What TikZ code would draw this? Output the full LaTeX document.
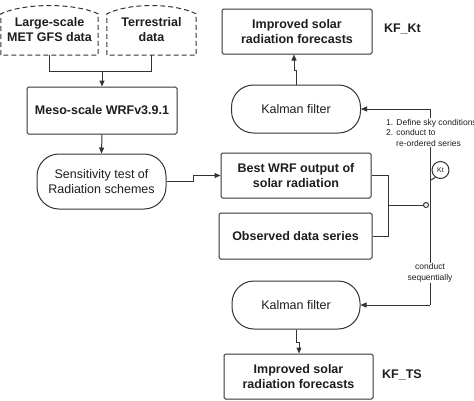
\documentclass[tikz,border=0pt]{standalone}
\usepackage{fontspec}
\setmainfont{Liberation Sans}
\usetikzlibrary{arrows.meta,calc}
\definecolor{lncol}{HTML}{333333}
\definecolor{txcol}{HTML}{1E1E1E}
\begin{document}
\begin{tikzpicture}[x=1pt,y=-1pt,
  font=\fontsize{12.5}{15}\selectfont, text=txcol,
  box/.style={draw=lncol, line width=1pt, rounded corners=1.5pt, align=center, inner sep=0pt, font=\fontsize{12.5}{15}\selectfont\bfseries},
  term/.style={draw=lncol, line width=1pt, rounded corners=22pt, align=center, inner sep=0pt},
  ghost/.style={align=center, inner sep=0pt, font=\fontsize{12.5}{15}\selectfont\bfseries},
  dashedbox/.style={draw=lncol, line width=1pt, dash pattern=on 5pt off 3pt},
  conn/.style={draw=lncol, line width=1pt},
  arr/.style={draw=lncol, line width=1pt, -{Triangle[length=6pt,width=5pt]}},
  small/.style={font=\fontsize{8.5}{10.5}\selectfont, inner sep=1pt}
]
\useasboundingbox[fill=white] (0,0) rectangle (474,400);

% dashed input shapes
\node[ghost, minimum width=97, minimum height=50] (ls) at (49.5,30) {Large-scale\\MET GFS data};
\node[ghost, minimum width=89, minimum height=50] (ter) at (151.5,30) {Terrestrial\\data};
\foreach \n in {ls,ter}{
  \draw[dashedbox] (\n.south west) -- ($(\n.north west)+(0,9)$)
    .. controls ($(\n.north west)!0.25!(\n.north east)+(0,-2)$) and ($(\n.north west)!0.75!(\n.north east)+(0,-2)$)
    .. ($(\n.north east)+(0,9)$) -- (\n.south east) -- cycle;
}

\node[box, minimum width=150, minimum height=47] (meso) at (102,110.5) {Meso-scale WRFv3.9.1};
\node[term, minimum width=129, minimum height=55] (sens) at (101.5,181.5) {Sensitivity test of\\Radiation schemes};

\node[box, minimum width=150, minimum height=45] (imp1) at (297,31.5) {Improved solar\\radiation forecasts};
\node[term, minimum width=129, minimum height=48] (kal1) at (296,109) {Kalman filter};
\node[box, minimum width=150, minimum height=45] (best) at (296,175.5) {Best WRF output of\\solar radiation};
\node[box, minimum width=153, minimum height=46] (obs) at (295.5,236) {Observed data series};
\node[term, minimum width=128, minimum height=48] (kal2) at (296,305) {Kalman filter};
\node[box, minimum width=149, minimum height=45] (imp2) at (298.5,376.5) {Improved solar\\radiation forecasts};

\node[font=\fontsize{12.5}{15}\selectfont\bfseries, inner sep=0pt] (kfkt) at (402.5,29) {KF\_Kt};
\node[font=\fontsize{12.5}{15}\selectfont\bfseries, inner sep=0pt] (kfts) at (402,375) {KF\_TS};

% top connectors
\coordinate (j1) at (102,71);
\draw[conn] (ls.south) |- (ter.south |- j1) -- (ter.south);
\draw[arr] (j1) -- (meso.north);
\draw[arr] (meso.south) -- (sens.north);

\coordinate (s1) at (193,0);
\draw[arr] (sens.east) -- (sens.east -| s1) -- (best.west -| s1) -- (best.west);

% junction of best and observed
\coordinate (jn) at (388,205);
\coordinate (vx) at (430,0);
\draw[conn] (best.east) -| (jn);
\draw[conn] (obs.east) -| (jn);
\coordinate (oc) at (426,205);
\draw[conn] (jn) -- (423.5,205);
\draw[conn, fill=white] (oc) circle[radius=2.5];

% vertical line to the Kalman filters
\draw[arr] (vx |- kal2.east) -- (vx |- kal1.east) -- (kal1.east);
\draw[arr] (vx |- kal2.east) -- (kal2.east);

% Kt callout
\node[circle, draw=lncol, line width=1pt, fill=white, minimum size=17, inner sep=0pt, font=\fontsize{7}{8}\selectfont] (kt) at (440.5,170) {Kt};
\draw[conn] (kt.235) -- (431,180);

% labels on the line
\node[small, fill=white, anchor=north west, align=left] (lab1) at (385,118)
  {1. Define sky conditions\\2. conduct to\\\hspace*{10pt}re-ordered series};
\node[small, fill=white, align=center] (lab2) at (430,273) {conduct\\sequentially};

% Kalman -> improved arrows with jogs
\coordinate (a1) at (296,70);
\coordinate (a2) at (294,70);
\draw[arr] (kal1.north) -- (a1) -- (a2) -- (a2 |- imp1.south);
\coordinate (b1) at (296,342);
\coordinate (b2) at (299,342);
\draw[arr] (kal2.south) -- (b1) -- (b2) -- (b2 |- imp2.north);
\end{tikzpicture}
\end{document}
